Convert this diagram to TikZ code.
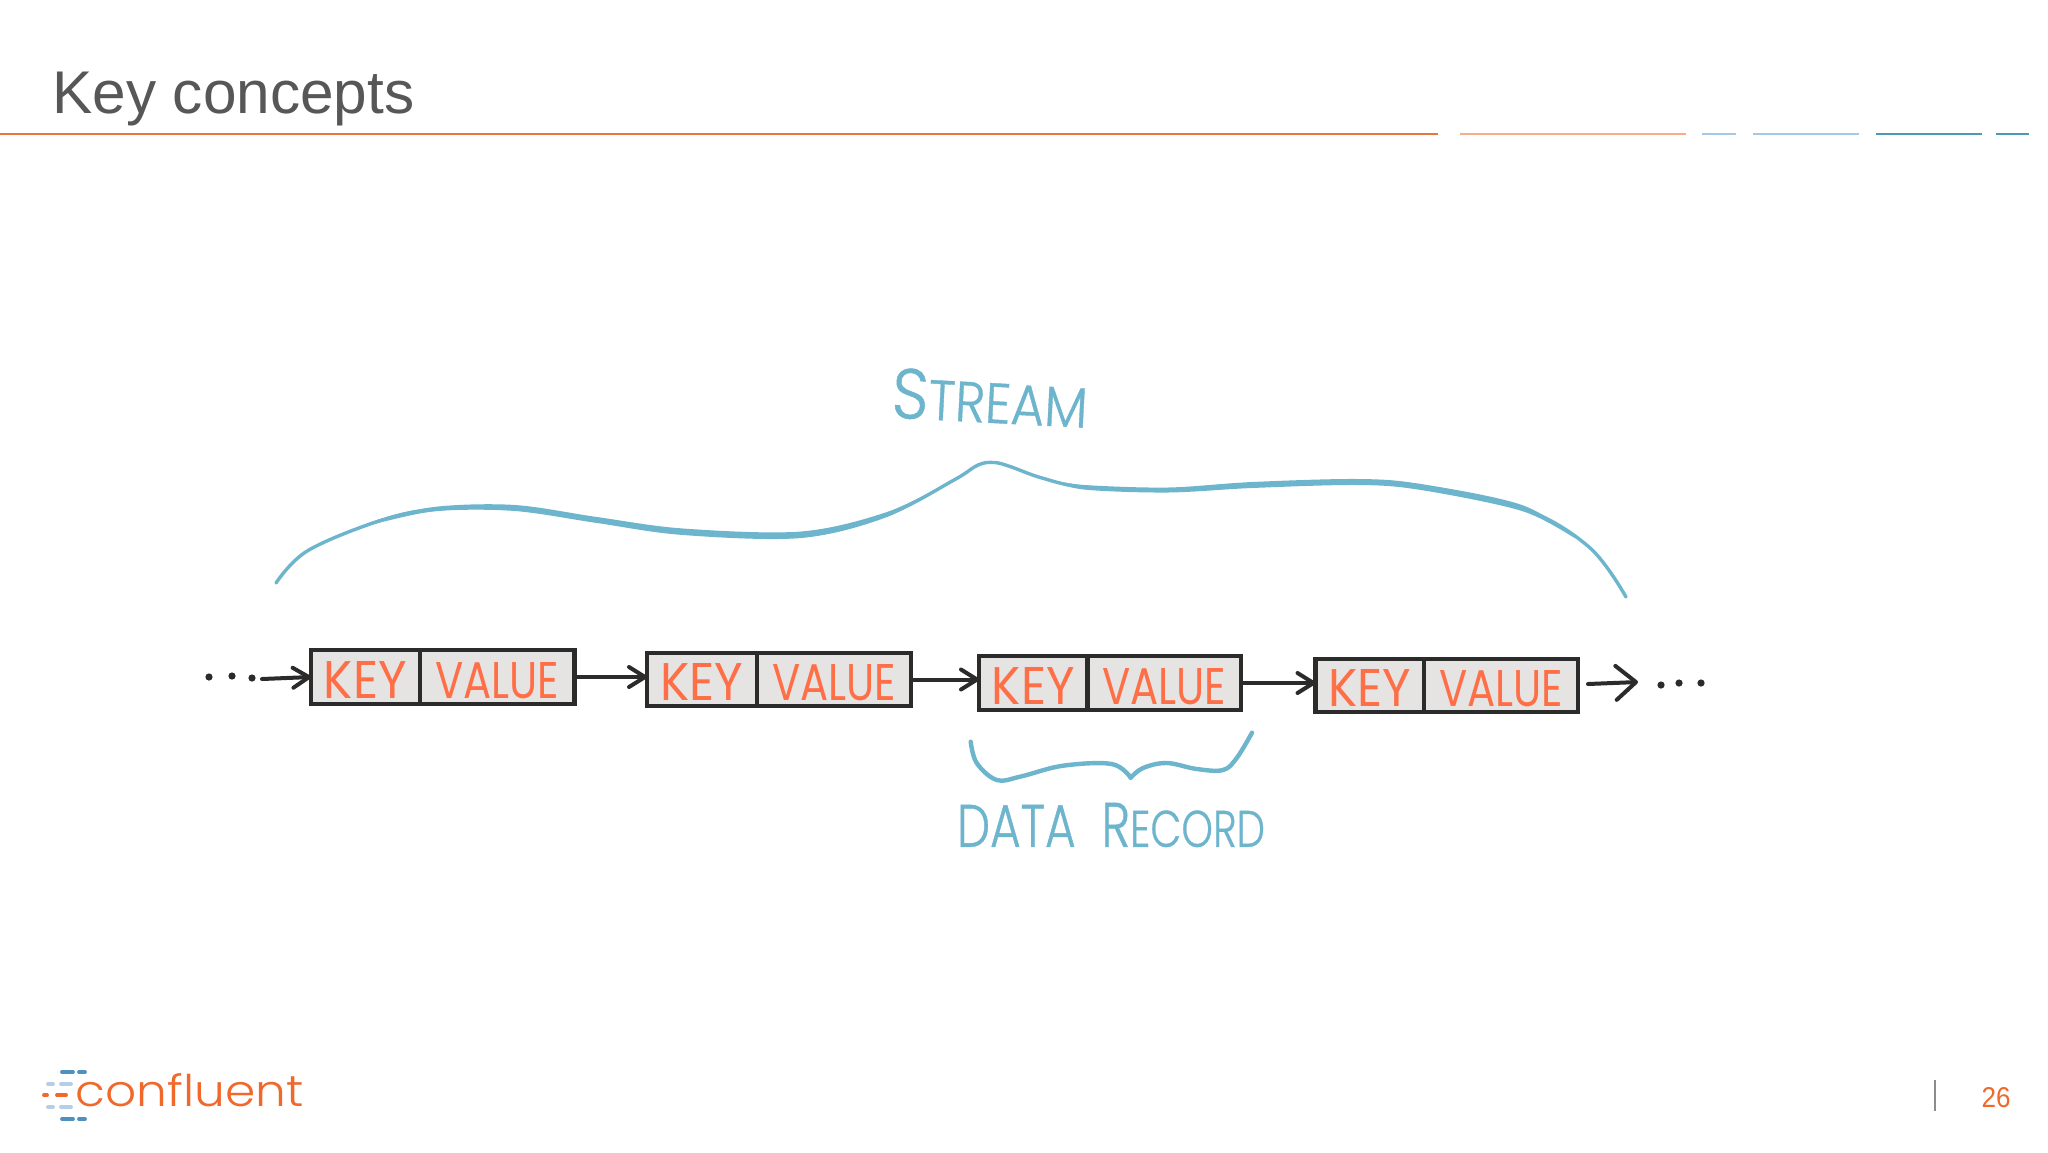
\documentclass[tikz,border=0pt]{standalone}
\usepackage{fontspec}
\usepackage{graphicx}
\usetikzlibrary{arrows.meta}
\setmainfont{Liberation Sans}
\newfontfamily\hand{Poppins}
\newfontfamily\handlight{Poppins}[UprightFont={* Light},AutoFakeBold=0,FakeStretch=1,UprightFeatures={FakeBold=0.7}]
\newfontfamily\logofont{Poppins}[UprightFont={* Light}]
\definecolor{ink}{HTML}{2B2B2B}
\definecolor{cellfill}{HTML}{E6E4E3}
\definecolor{hot}{HTML}{FF6F47}
\definecolor{sky}{HTML}{6DB4CD}
\definecolor{brand}{HTML}{F0682A}
\definecolor{ruleA}{HTML}{E8763A}
\definecolor{ruleB}{HTML}{F6AD88}
\definecolor{ruleC}{HTML}{A4C8E8}
\definecolor{ruleD}{HTML}{4A9AB3}
\definecolor{logoDark}{HTML}{4E90C0}
\definecolor{logoLight}{HTML}{B4CDE8}
\tikzset{
  cell/.style={draw=ink,fill=cellfill,line width=2.1pt,inner sep=0pt,outer sep=0pt,text=hot,anchor=north west},
  link/.style={draw=ink,line width=2pt,line cap=round,-{Straight Barb[length=8pt,width=10pt,line cap=round,round]}},
  headrule/.style={line width=1.35pt},
  dashmark/.style={line width=1.9pt,line cap=round},
  skyline/.style={draw=sky,line width=2.2pt,line cap=round,line join=round},
  dotmark/.style={circle,fill=ink,inner sep=0pt,minimum size=3.6pt,outer sep=0pt},
  handtext/.style={text=sky,inner sep=0pt},
}
\newcommand{\kfit}{\raisebox{-1.3pt}[18.5pt][0pt]{\resizebox{41.5pt}{18.5pt}{\hand KEY}}}
\newcommand{\vfit}{\raisebox{-1.6pt}[18pt][0pt]{\resizebox{62pt}{18pt}{\hand VALUE}}}
% name, x0, xdiv, x1, y0, y1
\newcommand{\recordbox}[6]{%
  \node[cell,minimum width={(#3-#2)*0.5pt},minimum height={(#6-#5)*0.5pt}] (#1k) at (#2,#5) {\kfit};
  \node[cell,minimum width={(#4-#3)*0.5pt},minimum height={(#6-#5)*0.5pt}] (#1v) at (#3,#5) {\vfit};
}
\begin{document}
\begin{tikzpicture}[x=0.5pt,y=-0.5pt]
\useasboundingbox[fill=white] (0,0) rectangle (2048,1152);

% title and header rule
\node[anchor=base west,inner sep=0pt,text=black!66] (title) at (52,113) {\resizebox{181pt}{!}{\fontsize{28.5}{34}\selectfont Key concepts}};
\draw[headrule,ruleA] (0,134) -- (1438,134);
\draw[headrule,ruleB] (1460,134) -- (1686,134);
\draw[headrule,ruleC] (1702,134) -- (1736,134);
\draw[headrule,ruleC] (1753,134) -- (1859,134);
\draw[headrule,ruleD] (1876,134) -- (1982,134);
\draw[headrule,ruleD] (1996,134) -- (2029,134);

% records
\recordbox{a}{311}{420}{574.5}{650}{704}
\recordbox{b}{647}{757}{911}{653}{706}
\recordbox{c}{979}{1087.5}{1241}{656}{710}
\recordbox{d}{1315.5}{1424}{1578}{659}{712}

% connectors
\coordinate (instart) at (262,679);
\coordinate (outstart) at (1588,684);
\coordinate (outend) at (1638,682);
\draw[link] (instart) -- (ak.west);
\draw[link] (av.east) -- (bk.west |- av.east);
\draw[link] (bv.east) -- (ck.west |- bv.east);
\draw[link] (cv.east) -- (dk.west |- cv.east);
\draw[draw=ink,line width=2pt,line cap=round,-{Straight Barb[length=10pt,width=17pt,line cap=round,round]}] (outstart) -- (outend);

% dots
\node[dotmark] (l1) at (209,677) {};
\node[dotmark] (l2) at (232,676) {};
\node[dotmark] (l3) at (252,678) {};
\node[dotmark] (r1) at (1661,685) {};
\node[dotmark] (r2) at (1679,683) {};
\node[dotmark] (r3) at (1701,683) {};

% stream brace
\draw[skyline,line width=1.7pt] plot[smooth,tension=0.6] coordinates {
 (276,583) (308,550.5) (382,520) (438,509) (515,508) (597,520) (683,531.7) (801,535)
 (887,514.5) (954,480) (978,465) (994,462.5) (1010,466.5) (1042,478) (1084,487) (1168,490)
 (1252,485) (1358,482) (1421,487) (1522,508) (1589,547) (1626,597)};
\fill[sky] plot[smooth cycle,tension=0.55] coordinates {
 (350,531) (382,518.5) (438,506.5) (515,505) (597,517) (683,528.5) (801,531.5) (887,512) (950,482)
 (887,517) (801,538) (683,535) (597,523) (515,511) (438,511) (382,522)
};
\fill[sky] plot[smooth cycle,tension=0.55] coordinates {
 (1050,480) (1084,485) (1168,487.5) (1252,482) (1358,479) (1421,484) (1522,505) (1575,538)
 (1522,511) (1421,490) (1358,485) (1252,488) (1168,492.5) (1084,489.5)
};
\node[handtext,rotate=-3] (stream) at (990,398) {\resizebox{98pt}{25pt}{\handlight{\fontsize{12.5}{14}\selectfont S}{\fontsize{10}{12}\selectfont TREAM}}};

% record brace
\draw[skyline] plot[smooth,tension=0.6] coordinates {(970.7,741.7) (976.7,763) (996.7,780) (1020,776.7) (1063,765.7) (1111.7,764) (1130.7,777.7)};
\draw[skyline] plot[smooth,tension=0.6] coordinates {(1130.7,777.7) (1143,768) (1166.7,763) (1196.7,769) (1223,770) (1236.7,758) (1252,732.7)};
\node[handtext] (datarecord) at (1111,825) {\resizebox{154pt}{22pt}{\handlight{\fontsize{10.5}{11}\selectfont DATA\ \ }{\fontsize{11}{13}\selectfont R}{\fontsize{9}{11}\selectfont ECORD}}};

% logo
\draw[dashmark,logoDark] (62,1072) -- (73,1072) (79,1072) -- (85,1072);
\draw[dashmark,logoLight] (48,1084) -- (53,1084) (61,1084) -- (71,1084);
\draw[dashmark,brand] (44,1095) -- (47,1095) (57,1095) -- (66,1095);
\draw[dashmark,logoLight] (48,1107) -- (53,1107) (61,1107) -- (71,1107);
\draw[dashmark,logoDark] (62,1119) -- (73,1119) (79,1119) -- (85,1119);
\node[anchor=base west,inner sep=0pt,text=brand] (logo) at (75,1106.5) {\resizebox{114pt}{16.5pt}{\logofont confluent}};

% page number
\draw[line width=0.7pt,black!45] (1935,1080) -- (1935,1111);
\node[anchor=base east,inner sep=0pt,text=brand] (page) at (2011,1107) {\resizebox{14.5pt}{10pt}{26}};
\end{tikzpicture}
\end{document}
